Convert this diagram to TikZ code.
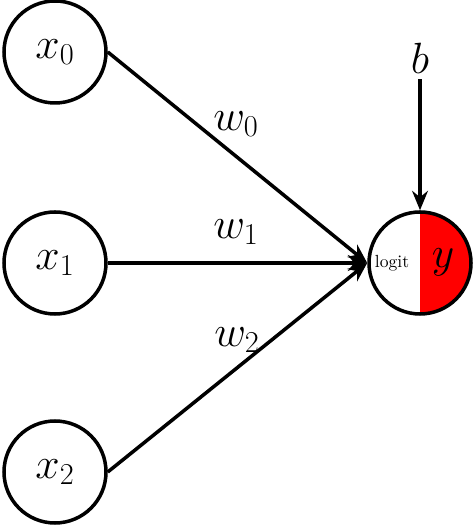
\documentclass[tikz,border=0pt]{standalone}
\usepackage{amsmath}
\usepackage{tikz}
\usetikzlibrary{arrows.meta}
\usetikzlibrary{calc}

\tikzset{
  unit/.style={circle, draw, line width=2pt, minimum size=2.04cm, inner sep=0pt, font=\fontsize{26}{30}\selectfont},
  wire/.style={line width=2pt, -{Stealth[length=11pt,width=9pt]}},
  wlabel/.style={font=\fontsize{26}{30}\selectfont}
}

\begin{document}
\begin{tikzpicture}[>=stealth, scale=1]
  \useasboundingbox (0,0) rectangle (9.48,10.52);

  % inputs
  \path
  (1.10,9.48) node[unit] (x0) {$x_{0}$}
  (1.10,5.26) node[unit] (x1) {$x_{1}$}
  (1.10,1.08) node[unit] (x2) {$x_{2}$}
  ;

  % output unit
  \node[unit, path picture={\fill[red] (path picture bounding box.north) rectangle (path picture bounding box.south east);}] (y) at (8.40,5.26) {};
  \node[font=\fontsize{10}{12}\selectfont] (logit) at ($(y.center)+(-0.56,0)$) {logit};
  \node[wlabel] (ylab) at ($(y.center)+(0.46,0.02)$) {$y$};
  \node[wlabel] (b) at (8.40,9.36) {$b$};

  \draw[wire] (x0.east) to (y.west);
  \draw[wire] (x1.east) to (y.west);
  \draw[wire] (x2.east) to (y.west);
  \draw[wire] (b) to (y.north);

  \draw (4.72,8.04) node[wlabel] {$w_{0}$};
  \draw (4.72,5.88) node[wlabel] {$w_{1}$};
  \draw (4.74,3.72) node[wlabel] {$w_{2}$};
\end{tikzpicture}
\end{document}
